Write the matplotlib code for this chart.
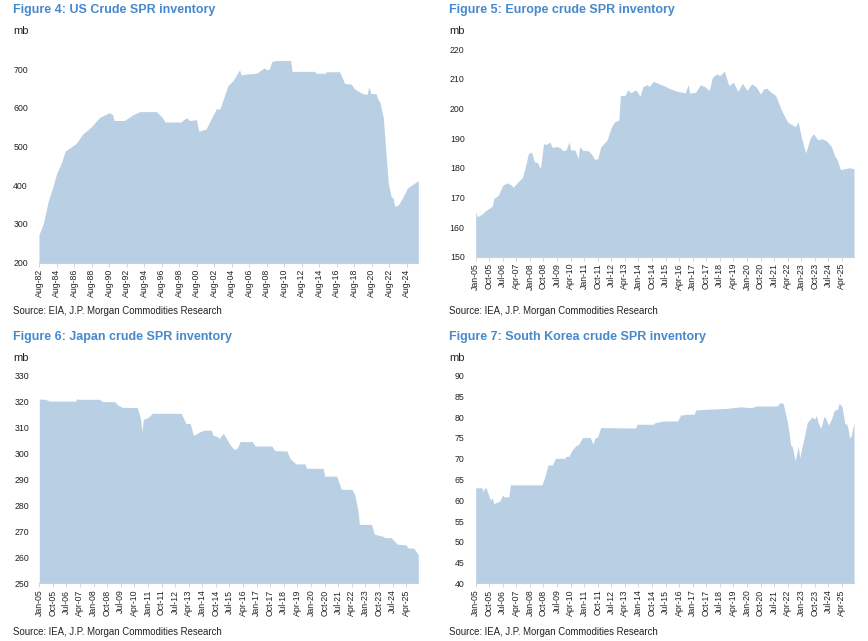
"""Four-panel crude SPR inventory chart (US, Europe, Japan, South Korea)."""
import matplotlib

matplotlib.use("Agg")

import matplotlib.dates as mdates
import matplotlib.pyplot as plt
import pandas as pd
from matplotlib import font_manager

W, H = 868, 641

FILL = "#b8cfe4"
TITLE_BLUE = "#4689cc"
AXIS_GREY = "#cfcfcf"
TEXT = "#222222"

US_DATES = [
    "1982-08", "1983-02", "1983-09", "1984-03", "1984-08", "1985-03", "1985-08", "1986-02",
    "1986-11", "1987-08", "1988-08", "1989-07", "1990-08", "1991-01", "1991-03", "1992-05",
    "1993-05", "1994-02", "1996-01", "1996-08", "1997-01", "1998-11", "1999-02", "1999-07",
    "1999-10", "2000-08", "2000-11", "2001-09", "2002-11", "2003-04", "2004-03", "2004-10",
    "2005-07", "2005-09", "2006-04", "2007-06", "2008-05", "2008-08", "2008-12", "2009-03",
    "2009-09", "2011-05", "2011-07", "2014-02", "2014-04", "2015-04", "2015-06", "2016-12",
    "2017-07", "2018-04", "2018-09", "2019-08", "2020-02", "2020-04", "2020-07", "2021-02",
    "2021-05", "2021-07", "2021-12", "2022-02", "2022-07", "2022-11", "2023-01", "2023-04",
    "2023-09", "2024-03", "2024-09", "2025-02", "2025-07", "2025-12",
]
US_MB = [
    272, 301, 361, 395, 429, 459, 488, 496,
    508, 532, 551, 575, 587, 582, 567, 567,
    582, 590, 590, 577, 563, 563, 569, 574,
    567, 569, 539, 545, 597, 597, 657, 670,
    698, 685, 687, 689, 703, 698, 700, 719,
    722, 722, 694, 694, 689, 689, 693, 693,
    663, 661, 648, 636, 635, 654, 637, 636,
    620, 617, 575, 524, 404, 369, 369, 345,
    350, 369, 392, 399, 405, 412,
]

EU_DATES = [
    "2005-01", "2005-02", "2005-05", "2005-08", "2005-12", "2006-01", "2006-04", "2006-07",
    "2006-10", "2006-12", "2007-02", "2007-05", "2007-08", "2007-10", "2007-12", "2008-02",
    "2008-04", "2008-06", "2008-08", "2008-10", "2008-12", "2009-02", "2009-04", "2009-06",
    "2009-09", "2009-11", "2010-01", "2010-03", "2010-04", "2010-07", "2010-09", "2010-10",
    "2010-12", "2011-04", "2011-06", "2011-08", "2011-10", "2011-12", "2012-03", "2012-04",
    "2012-07", "2012-09", "2012-12", "2013-01", "2013-04", "2013-06", "2013-08", "2013-11",
    "2013-12", "2014-02", "2014-04", "2014-07", "2014-08", "2014-11", "2015-02", "2015-06",
    "2015-09", "2015-12", "2016-03", "2016-08", "2016-10", "2016-11", "2017-03", "2017-06",
    "2017-09", "2017-12", "2018-02", "2018-05", "2018-07", "2018-10", "2019-01", "2019-04",
    "2019-07", "2019-10", "2020-01", "2020-04", "2020-07", "2020-10", "2020-12", "2021-02",
    "2021-05", "2021-08", "2021-12", "2022-04", "2022-09", "2022-11", "2023-01", "2023-04",
    "2023-07", "2023-09", "2023-12", "2024-03", "2024-06", "2024-09", "2024-11", "2025-01",
    "2025-03", "2025-06", "2025-09", "2025-12",
]
EU_MB = [
    165.1, 163.5, 164.3, 165.7, 167.0, 169.6, 170.7, 174.1,
    174.9, 174.4, 173.5, 175.2, 176.7, 180.3, 184.8, 185.3,
    182.0, 181.8, 179.7, 188.1, 187.9, 188.7, 186.8, 187.2,
    186.8, 185.7, 186.1, 188.7, 186.1, 185.9, 183.1, 187.2,
    185.9, 185.7, 184.5, 182.8, 183.1, 187.0, 188.7, 189.2,
    193.7, 195.4, 196.2, 204.4, 204.4, 206.3, 205.3, 206.3,
    205.8, 204.1, 207.4, 208.1, 207.4, 209.2, 208.5, 207.7,
    206.9, 206.3, 205.8, 205.3, 208.1, 205.2, 205.5, 208.0,
    207.4, 206.1, 210.5, 211.7, 211.1, 212.6, 207.7, 208.9,
    205.8, 208.5, 206.1, 208.3, 207.4, 204.9, 206.6, 206.9,
    205.5, 204.4, 199.3, 195.4, 193.9, 195.4, 190.4, 185.0,
    190.1, 191.5, 189.5, 189.8, 189.0, 187.2, 184.2, 182.5,
    179.4, 179.7, 180.0, 179.7,
]

JP_DATES = [
    "2005-01", "2005-05", "2005-08", "2007-01", "2007-02", "2007-03", "2008-05", "2008-07",
    "2009-03", "2009-05", "2009-08", "2009-11", "2010-06", "2010-08", "2010-09", "2010-10",
    "2011-01", "2011-04", "2012-11", "2013-02", "2013-05", "2013-07", "2013-09", "2013-10",
    "2014-02", "2014-07", "2014-08", "2014-11", "2014-12", "2015-03", "2015-05", "2015-07",
    "2015-10", "2015-12", "2016-02", "2016-10", "2016-12", "2017-11", "2018-01", "2018-09",
    "2018-11", "2019-03", "2019-09", "2019-10", "2020-09", "2020-10", "2021-06", "2021-09",
    "2022-04", "2022-06", "2022-08", "2022-09", "2023-05", "2023-07", "2023-12", "2024-02",
    "2024-06", "2024-10", "2025-04", "2025-05", "2025-09", "2025-11", "2025-12",
]
JP_MB = [
    321.0, 320.9, 320.2, 320.2, 321.2, 320.9, 320.9, 320.0,
    320.0, 318.7, 317.8, 317.8, 317.7, 313.5, 308.4, 313.2,
    313.9, 315.5, 315.5, 311.6, 311.6, 307.1, 307.5, 308.0,
    309.0, 309.0, 307.1, 306.5, 305.8, 307.8, 305.8, 303.7,
    301.6, 302.0, 304.6, 304.6, 302.9, 302.9, 301.1, 301.0,
    298.1, 296.0, 296.0, 294.3, 294.3, 291.3, 291.3, 286.2,
    286.2, 284.0, 278.2, 272.7, 272.7, 268.9, 268.2, 267.6,
    267.6, 265.1, 264.8, 263.7, 263.5, 261.8, 260.9,
]

KR_DATES = [
    "2005-01", "2005-05", "2005-06", "2005-07", "2005-08", "2005-10", "2005-11", "2005-12",
    "2006-01", "2006-03", "2006-05", "2006-07", "2006-08", "2006-11", "2006-12", "2008-09",
    "2008-11", "2009-01", "2009-04", "2009-06", "2009-12", "2010-01", "2010-03", "2010-05",
    "2010-08", "2010-09", "2010-12", "2011-05", "2011-07", "2011-08", "2011-10", "2011-12",
    "2013-11", "2013-12", "2014-11", "2014-12", "2015-06", "2016-03", "2016-05", "2016-09",
    "2017-02", "2017-03", "2017-09", "2018-11", "2019-09", "2020-04", "2020-07", "2021-09",
    "2021-11", "2022-01", "2022-04", "2022-06", "2022-07", "2022-09", "2022-11", "2022-12",
    "2023-01", "2023-03", "2023-05", "2023-07", "2023-08", "2023-10", "2023-11", "2023-12",
    "2024-02", "2024-04", "2024-05", "2024-07", "2024-09", "2024-11", "2025-01", "2025-02",
    "2025-04", "2025-06", "2025-07", "2025-08", "2025-09", "2025-10", "2025-12",
]
KR_MB = [
    63.0, 63.0, 62.1, 63.0, 62.9, 60.8, 60.0, 60.7,
    59.2, 59.5, 59.8, 61.3, 60.8, 60.8, 63.7, 63.7,
    65.8, 68.5, 68.5, 70.1, 70.1, 70.6, 70.6, 72.1,
    73.3, 73.3, 75.1, 75.1, 73.5, 74.9, 75.3, 77.5,
    77.4, 78.3, 78.3, 78.7, 79.1, 79.1, 80.5, 80.7,
    80.7, 81.7, 81.9, 82.1, 82.5, 82.3, 82.7, 82.7,
    83.5, 83.3, 78.5, 73.3, 73.0, 69.5, 73.0, 70.1,
    72.1, 75.1, 78.7, 79.5, 80.1, 79.5, 80.5, 78.9,
    77.3, 80.1, 79.9, 78.1, 79.5, 81.7, 81.9, 83.3,
    82.7, 78.3, 78.5, 77.3, 75.1, 75.3, 78.7,
]

US_YTICKS = [200, 300, 400, 500, 600, 700]
EU_YTICKS = [150, 160, 170, 180, 190, 200, 210, 220]
JP_YTICKS = [250, 260, 270, 280, 290, 300, 310, 320, 330]
KR_YTICKS = [40, 45, 50, 55, 60, 65, 70, 75, 80, 85, 90]

US_XTICKS = pd.date_range("1982-08-01", "2024-08-01", freq="24MS")
IEA_XTICKS = pd.date_range("2005-01-01", "2025-04-01", freq="9MS")

SOURCE_EIA = "Source: EIA, J.P. Morgan Commodities Research"
SOURCE_IEA = "Source: IEA, J.P. Morgan Commodities Research"


def pick_family():
    names = {f.name for f in font_manager.fontManager.ttflist}
    for fam in ["Liberation Sans Narrow", "Liberation Sans", "DejaVu Sans"]:
        if fam in names:
            return fam
    return "sans-serif"


def px_text(fig, x, y, s, **kw):
    fig.text(x / W, 1 - y / H, s, ha="left", va="center", **kw)


def draw_panel(fig, box, head, dates, values, ylim, yticks, xticks, source, ypad):
    left, top, right, bottom, tx, ty, sy = box
    ax = fig.add_axes([left / W, 1 - bottom / H, (right - left) / W, (bottom - top) / H])
    x = pd.to_datetime(dates)
    ax.fill_between(x, values, ylim[0], color=FILL, lw=0, zorder=2)
    ax.set_xlim(x[0], x[-1])
    ax.set_ylim(*ylim)
    ax.set_yticks(yticks)
    ax.set_xticks(xticks)
    ax.xaxis.set_major_formatter(mdates.DateFormatter("%b-%y"))
    ax.tick_params(axis="x", labelrotation=90, length=3, width=0.6, color=AXIS_GREY,
                   labelsize=6.3, pad=1.5, labelcolor=TEXT)
    ax.tick_params(axis="y", length=0, labelsize=6.3, pad=ypad, labelcolor=TEXT)
    for s in ["top", "right", "left"]:
        ax.spines[s].set_visible(False)
    ax.spines["bottom"].set_color(AXIS_GREY)
    ax.spines["bottom"].set_linewidth(0.8)
    ax.spines["bottom"].set_zorder(3)

    px_text(fig, tx, ty, head, fontsize=9.0, weight="bold", color=TITLE_BLUE)
    px_text(fig, tx, ty + 21, "mb", fontsize=8, color=TEXT)
    px_text(fig, tx, sy, source, fontsize=6.9, color=TEXT)
    return ax


def main():
    fam = pick_family()
    plt.rcParams.update({"font.family": [fam, "DejaVu Sans"]})
    fig = plt.figure(figsize=(W / 100, H / 100), dpi=100)
    fig.patch.set_facecolor("white")

    draw_panel(fig, (39, 49.7, 418.3, 262.5, 13, 10.5, 311),
               "Figure 4: US Crude SPR inventory", US_DATES, US_MB,
               (200, 750), US_YTICKS, US_XTICKS, SOURCE_EIA, 8)
    draw_panel(fig, (475.7, 49.3, 854, 256.7, 449, 10.5, 311),
               "Figure 5: Europe crude SPR inventory", EU_DATES, EU_MB,
               (150, 220), EU_YTICKS, IEA_XTICKS, SOURCE_IEA, 8)
    draw_panel(fig, (39.3, 375.7, 418.3, 583.3, 13, 337, 632),
               "Figure 6: Japan crude SPR inventory", JP_DATES, JP_MB,
               (250, 330), JP_YTICKS, IEA_XTICKS, SOURCE_IEA, 7)
    draw_panel(fig, (475.7, 375.7, 854, 583.3, 449, 337, 632),
               "Figure 7: South Korea crude SPR inventory", KR_DATES, KR_MB,
               (40, 90), KR_YTICKS, IEA_XTICKS, SOURCE_IEA, 8)

    fig.savefig("out.png", dpi=100)
    plt.close(fig)


if __name__ == "__main__":
    main()
